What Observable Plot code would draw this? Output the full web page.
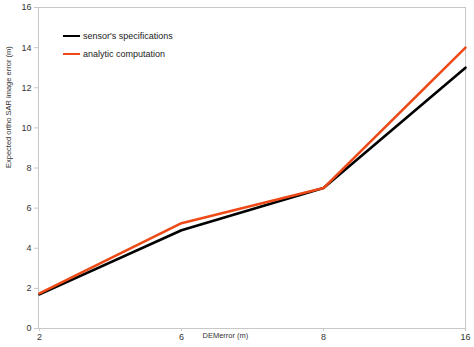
<!DOCTYPE html>
<html>
<head>
<meta charset="utf-8">
<script src="https://cdn.jsdelivr.net/npm/d3@7"></script>
<script src="https://cdn.jsdelivr.net/npm/@observablehq/plot@0.6"></script>
<style>
  body { margin: 0; background: #fff; font-family: "Liberation Sans", Arial, sans-serif; }
  #wrap { position: relative; width: 474px; height: 347px; }
  #legend { position: absolute; left: 63px; top: 27px; font-size: 9px; color: #222; line-height: 18px; }
  #legend .row { display: flex; align-items: center; }
  #legend .sw { width: 17px; height: 0; border-top: 2.5px solid; margin-right: 3px; }
</style>
</head>
<body>
<div id="wrap"></div>
<script>
const demError = ["2", "6", "8", "16"];
const sensorSpec = [1.7, 4.9, 7.0, 13.0];
const analytic = [1.75, 5.25, 7.0, 14.0];
const yTicks = [0, 2, 4, 6, 8, 10, 12, 14, 16];
const seriesNames = ["sensor's specifications", "analytic computation"];
const seriesColors = ["#000000", "#ee4a18"];

const data = [];
demError.forEach((d, i) => {
  data.push({x: d, y: sensorSpec[i], s: seriesNames[0]});
  data.push({x: d, y: analytic[i], s: seriesNames[1]});
});

const chart = Plot.plot({
  width: 474,
  height: 347,
  marginLeft: 38,
  marginRight: 9,
  marginTop: 7,
  marginBottom: 19,
  style: { fontFamily: "Liberation Sans, Arial, sans-serif", fontSize: "9px", color: "#333", background: "#fff" },
  x: { type: "point", domain: demError, padding: 0 },
  y: { domain: [0, 16] },
  color: { domain: seriesNames, range: seriesColors },
  marks: [
    Plot.frame({ stroke: "#c8c8c8" }),
    Plot.axisY({ ticks: yTicks, tickSize: 4, tickPadding: 3, stroke: "#c8c8c8", color: "#333", label: null }),
    Plot.axisX({ tickSize: 3, tickPadding: 2, stroke: "#c8c8c8", color: "#333", label: null }),
    Plot.text(["Expected ortho SAR image error (m)"], { frameAnchor: "left", rotate: -90, dx: -30, fontSize: 7.5, fill: "#333" }),
    Plot.text(["DEMerror (m)"], { x: () => "6", frameAnchor: "bottom", dx: 21, dy: 9, textAnchor: "start", fontSize: 7.5, fill: "#333" }),
    Plot.line(data, { x: "x", y: "y", stroke: "s", z: "s", strokeWidth: 2.6 })
  ]
});
document.getElementById("wrap").appendChild(chart);

const legend = document.createElement("div");
legend.id = "legend";
seriesNames.forEach((n, i) => {
  const r = document.createElement("div");
  r.className = "row";
  r.innerHTML = `<span class="sw" style="border-color:${seriesColors[i]}"></span><span>${n}</span>`;
  legend.appendChild(r);
});
document.getElementById("wrap").appendChild(legend);
</script>
</body>
</html>
